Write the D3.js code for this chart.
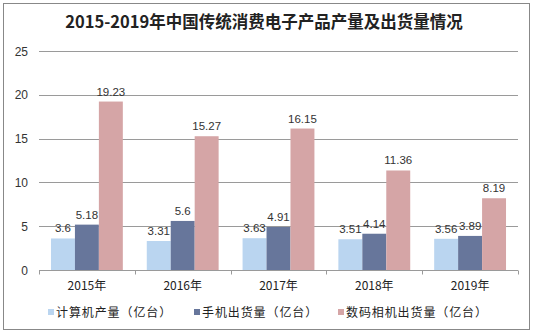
<!DOCTYPE html>
<html><head><meta charset="utf-8">
<script src="https://cdn.jsdelivr.net/npm/d3@7"></script>
<style>body{margin:0;background:#fff}svg{display:block}</style>
</head><body>
<script>
const title = "2015-2019年中国传统消费电子产品产量及出货量情况";
const categories = ["2015年","2016年","2017年","2018年","2019年"];
const seriesNames = ["计算机产量（亿台）","手机出货量（亿台）","数码相机出货量（亿台）"];
const computers = [3.6, 3.31, 3.63, 3.51, 3.56];
const phones = [5.18, 5.6, 4.91, 4.14, 3.89];
const cameras = [19.23, 15.27, 16.15, 11.36, 8.19];
const yTicks = [0, 5, 10, 15, 20, 25];
const colors = ["#bad5f0", "#67769b", "#d5a5a6"];

const W = 536, H = 335;
const svg = d3.select("body").append("svg").attr("width", W).attr("height", H);
svg.append("rect").attr("x", 3.5).attr("y", 3.5).attr("width", 526).attr("height", 326)
  .attr("fill", "#fff").attr("stroke", "#888").attr("stroke-width", 1);

svg.append("text").attr("x", 264).attr("y", 28).attr("text-anchor", "middle")
  .attr("font-family", "'Noto Sans CJK SC', sans-serif").attr("font-weight", "bold")
  .attr("font-size", 16.5).attr("fill", "#222").text(title);

const x0 = d3.scaleBand().domain(categories).range([39, 518]).paddingInner(0).paddingOuter(0);
const x1 = d3.scaleBand().domain([0,1,2]).range([0, x0.bandwidth()]).paddingInner(0).paddingOuter(0.5);
const y = d3.scaleLinear().domain([0, 25]).range([270, 51]);

const font = "'Liberation Sans', Arial, sans-serif";
// grid
svg.append("g").selectAll("line").data(yTicks.slice(1)).join("line")
  .attr("x1", 39).attr("x2", 518).attr("y1", d => Math.round(y(d)) + 0.5).attr("y2", d => Math.round(y(d)) + 0.5)
  .attr("stroke", "#9a9a9a").attr("stroke-width", 1);
// y labels
svg.append("g").selectAll("text").data(yTicks).join("text")
  .attr("x", 28).attr("y", d => y(d) + 4.5).attr("text-anchor", "end")
  .attr("font-family", font).attr("font-size", 12).attr("fill", "#333").text(d => d);

const data = categories.map((c, i) => ({c, v: [computers[i], phones[i], cameras[i]]}));
const groups = svg.append("g").selectAll("g").data(data).join("g")
  .attr("transform", d => `translate(${x0(d.c)},0)`);
groups.selectAll("rect").data(d => d.v.map((v, k) => ({v, k}))).join("rect")
  .attr("x", d => x1(d.k)).attr("width", x1.bandwidth())
  .attr("y", d => y(d.v)).attr("height", d => y(0) - y(d.v)).attr("fill", d => colors[d.k]);
groups.selectAll("text").data(d => d.v.map((v, k) => ({v, k}))).join("text")
  .attr("x", d => x1(d.k) + x1.bandwidth() / 2).attr("y", d => y(d.v) - 6)
  .attr("text-anchor", "middle").attr("font-family", font).attr("font-size", 11.5).attr("fill", "#333")
  .text(d => d.v);

// x axis
const gx = svg.append("g").attr("transform", "translate(0,270.5)");
gx.append("line").attr("x1", 39).attr("x2", 518).attr("stroke", "#9a9a9a");
const tickPos = categories.map(c => x0(c)).concat([x0.range()[1]]);
gx.selectAll("line.t").data(tickPos).join("line").attr("class", "t")
  .attr("x1", d => Math.round(d) + 0.5).attr("x2", d => Math.round(d) + 0.5).attr("y1", 0).attr("y2", 4).attr("stroke", "#9a9a9a");
gx.selectAll("text").data(categories).join("text")
  .attr("x", d => x0(d) + x0.bandwidth() / 2).attr("y", 19)
  .attr("text-anchor", "middle").attr("font-family", "'Noto Sans CJK SC', sans-serif").attr("font-size", 12).attr("fill", "#222")
  .text(d => d);

// legend
const legX = [48, 194, 338];
const leg = svg.append("g").selectAll("g").data(seriesNames).join("g")
  .attr("transform", (d, i) => `translate(${legX[i]},312)`);
leg.append("rect").attr("x", 0).attr("y", -3).attr("width", 6).attr("height", 6).attr("fill", (d, i) => colors[i]);
leg.append("text").attr("x", 8).attr("y", 4.5).attr("font-family", "'Noto Sans CJK SC', sans-serif")
  .attr("font-size", 12).attr("letter-spacing", 0.9).attr("fill", "#222").text(d => d);
</script>
</body></html>
